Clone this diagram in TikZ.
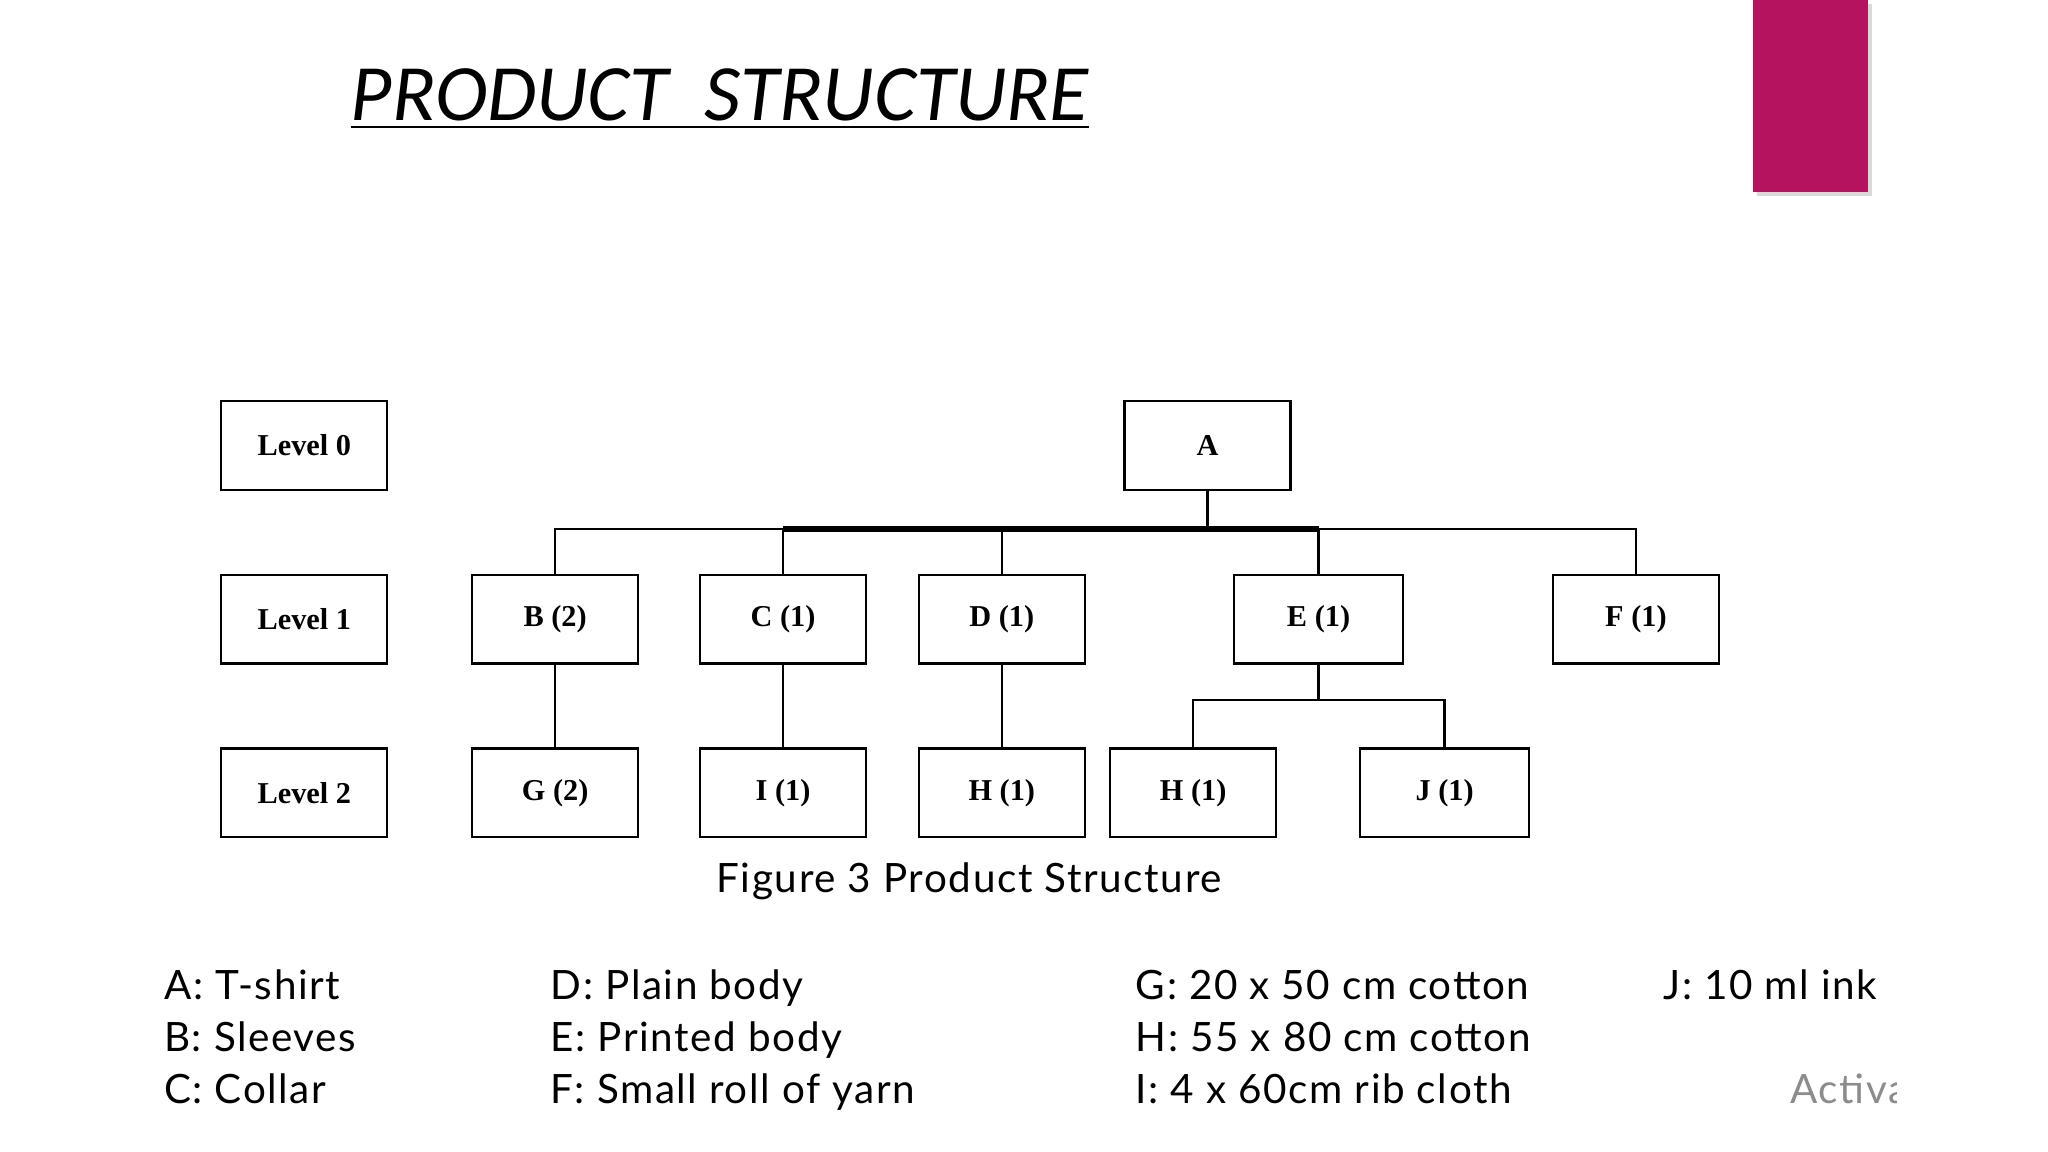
\documentclass[tikz,border=0pt]{standalone}
\usepackage{fontspec}
\setmainfont{Liberation Serif}
\newfontfamily\titlefont{Carlito}
\newfontfamily\legfont[LetterSpace=4]{Lato}
\begin{document}
\begin{tikzpicture}[x=0.01cm,y=-0.01cm,
  bx/.style={draw,line width=0.5pt,minimum width=1.27cm,minimum height=0.68cm,inner sep=0pt,font=\fontsize{6.6}{7}\selectfont\bfseries},
  ln/.style={line width=0.5pt},
  leg/.style={anchor=base west,inner sep=0pt,font=\legfont\fontsize{8.8}{10}\selectfont}]
\useasboundingbox (0,0) rectangle (1568,882);
\fill[black!15] (1345,3) rectangle (1433,150);
\fill[fill={rgb,255:red,181;green,19;blue,95}] (1342,0) rectangle (1430,147);
\node[anchor=base west,inner sep=0pt,font=\titlefont\itshape\fontsize{17.4}{20}\selectfont] (title) at (268,92) {\underline{PRODUCT\ \ STRUCTURE}};
% boxes
\node[bx] (L0) at (233,341) {Level 0};
\node[bx] (A) at (924.5,341) {A};
\node[bx] (L1) at (233,474) {Level 1};
\node[bx] (B) at (425,474) {B (2)};
\node[bx] (C) at (599.5,474) {C (1)};
\node[bx] (D) at (767,474) {D (1)};
\node[bx,minimum width=1.29cm] (E) at (1009.5,474) {E (1)};
\node[bx] (F) at (1252.5,474) {F (1)};
\node[bx] (L2) at (233,607) {Level 2};
\node[bx] (G) at (425,607) {G (2)};
\node[bx] (I) at (599.5,607) {I (1)};
\node[bx] (H1) at (767,607) {H (1)};
\node[bx] (H2) at (913.5,607) {H (1)};
\node[bx,minimum width=1.29cm] (J) at (1106,607) {J (1)};
% connectors
\coordinate (bus) at (924.5,405);
\draw[ln] (A.south) -- (bus);
\draw[ln] (B.north) |- (bus) -| (F.north);
\draw[line width=1.2pt] (C.north |- bus) -- (E.north |- bus);
\draw[ln] (C.north) -- (C.north |- bus);
\draw[ln] (D.north) -- (D.north |- bus);
\draw[ln] (E.north) -- (E.north |- bus);
\draw[ln] (B.south) -- (G.north);
\draw[ln] (C.south) -- (I.north);
\draw[ln] (D.south) -- (H1.north);
\coordinate (ej) at (1009.5,536);
\draw[ln] (E.south) -- (ej);
\draw[ln] (H2.north) |- (ej) -| (J.north);
% caption
\node[anchor=base,inner sep=0pt,font=\legfont\fontsize{8.8}{10}\selectfont] (cap) at (742,683) {Figure 3 Product Structure};
% legend
\node[leg] (la) at (125,765) {A: T-shirt};
\node[leg] (lb) at (125,805) {B: Sleeves};
\node[leg] (lc) at (125,845) {C: Collar};
\node[leg] (ld) at (421,765) {D: Plain body};
\node[leg] (le) at (421,805) {E: Printed body};
\node[leg] (lf) at (421,845) {F: Small roll of yarn};
\node[leg] (lg) at (869,765) {G: 20 x 50 cm cotton};
\node[leg] (lh) at (869,805) {H: 55 x 80 cm cotton};
\node[leg] (li) at (869,845) {I: 4 x 60cm rib cloth};
\node[leg] (lj) at (1273,765) {J: 10 ml ink};
\begin{scope}
\clip (1360,800) rectangle (1452,862);
\node[leg,text=black!45] (act) at (1370,845) {Activate};
\end{scope}
\end{tikzpicture}
\end{document}
